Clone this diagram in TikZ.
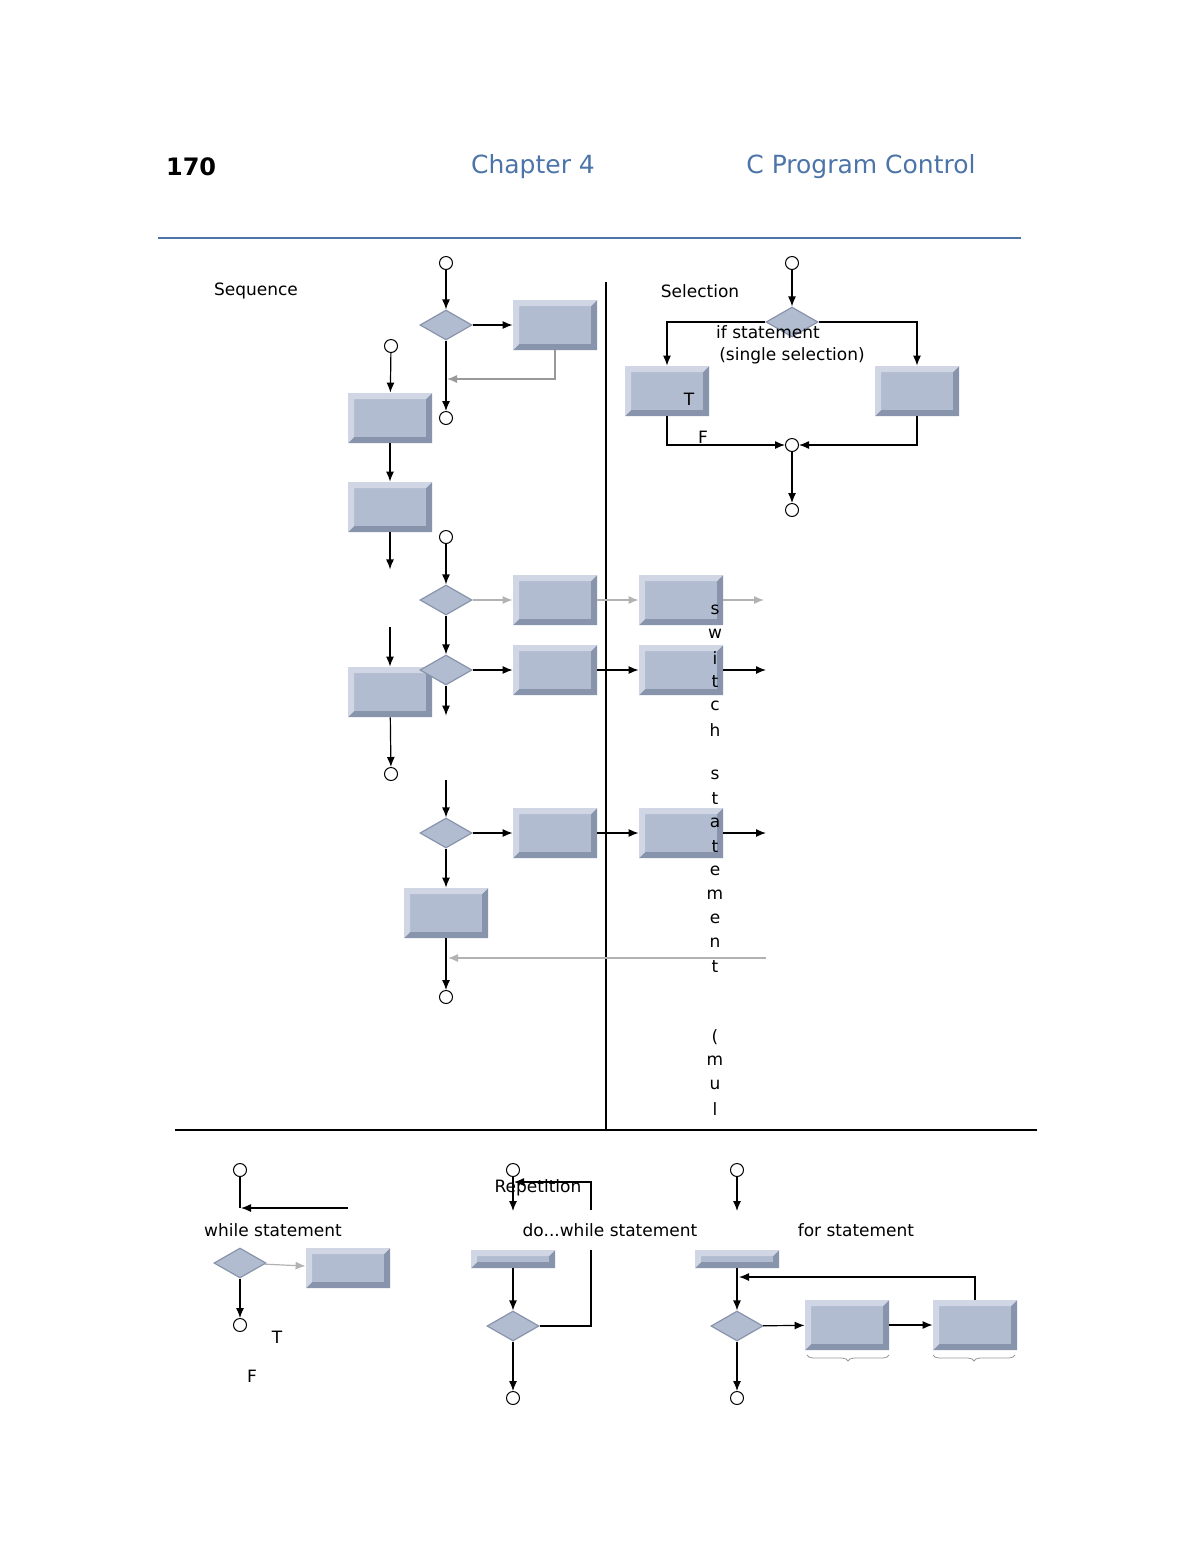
\documentclass[tikz,border=0pt]{standalone}
\usepackage{fontspec}
\setmainfont{DejaVu Sans}
\usetikzlibrary{shapes.geometric,arrows.meta,decorations.pathreplacing}
\definecolor{boxc}{HTML}{B2BCD1}
\definecolor{boxd}{HTML}{8893AC}
\definecolor{boxl}{HTML}{D0D6E3}
\definecolor{hblue}{HTML}{4C74A8}
\tikzset{
 bx/.style={rectangle,fill=boxc,minimum width=42pt,minimum height=25pt,inner sep=0pt,
  path picture={
   \fill[boxd] (path picture bounding box.south west)--(path picture bounding box.south east)--(path picture bounding box.north east)--([shift={(-3pt,-3pt)}]path picture bounding box.north east)--([shift={(-3pt,3pt)}]path picture bounding box.south east)--([shift={(3pt,3pt)}]path picture bounding box.south west)--cycle;
   \fill[boxl] (path picture bounding box.south west)--(path picture bounding box.north west)--(path picture bounding box.north east)--([shift={(-3pt,-3pt)}]path picture bounding box.north east)--([shift={(3pt,-3pt)}]path picture bounding box.north west)--([shift={(3pt,3pt)}]path picture bounding box.south west)--cycle;}},
 hbx/.style={bx,minimum height=9pt},
 dm/.style={diamond,fill=boxc,draw=boxd,line width=0.6pt,minimum width=26pt,minimum height=15pt,inner sep=0pt,shape aspect=1.7},
 cc/.style={circle,draw,line width=0.5pt,minimum size=6.5pt,inner sep=0pt},
 ar/.style={-{Latex[length=5pt,width=4pt]},line width=0.6pt},
 fa/.style={ar,draw=black!30},
 ln/.style={line width=0.6pt},
 lbl/.style={font=\fontsize{8.5}{10}\selectfont,inner sep=0pt},
}
\begin{document}
\begin{tikzpicture}[x=0.5pt,y=-0.5pt]
\useasboundingbox (0,0) rectangle (1200,1565);
% header
\node[font=\bfseries\fontsize{12}{14}\selectfont,anchor=west] (pg) at (159,167) {170};
\node[font=\fontsize{12.5}{14}\selectfont,text=hblue] (ch) at (533,167) {Chapter 4};
\node[font=\fontsize{12.5}{14}\selectfont,text=hblue] (ct) at (861,167) {C Program Control};
\draw[hblue,line width=0.8pt] (158,238) -- (1021,238);
\draw[line width=0.9pt] (606,282) -- (606,1130);
\draw[line width=0.9pt] (175,1130) -- (1037,1130);
\node[lbl] (seq) at (256,291) {Sequence};
\node[lbl] (sel) at (700,291) {Selection};
% sequence
\node[cc] (s0) at (391,346) {};
\node[bx] (s1) at (390,418) {};
\node[bx] (s2) at (390,507) {};
\node[bx] (s3) at (390,692) {};
\node[cc] (s4) at (391,774) {};
\draw[ar] (s0) -- (s1);
\draw[ar] (s1) -- (s2);
\draw[ar] (s2.south) -- ++(0,37) coordinate (s2e);
\coordinate (s3s) at (390,627);
\draw[ar] (s3s) -- (s3);
\draw[ar] (s3) -- (s4);
% if single (left)
\node[cc] (a0) at (446,263) {};
\node[dm] (a1) at (446,325) {};
\node[bx] (a2) at (555,325) {};
\node[cc] (a3) at (446,418) {};
\draw[ar] (a0) -- (a1);
\draw[ar] (a1) -- (a2);
\draw[ar] (a1) -- (a3);
\draw[fa,draw=black!40] (a2.south) |- (447,379);
% switch
\node[cc] (w0) at (446,537) {};
\node[dm] (w1) at (446,600) {};
\node[bx] (w1a) at (555,600) {};
\node[bx] (w1b) at (681,600) {};
\node[dm] (w2) at (446,670) {};
\node[bx] (w2a) at (555,670) {};
\node[bx] (w2b) at (681,670) {};
\node[dm] (w3) at (446,833) {};
\node[bx] (w3a) at (555,833) {};
\node[bx] (w3b) at (681,833) {};
\node[bx] (w4) at (446,913) {};
\node[cc] (w5) at (446,997) {};
\draw[ar] (w0) -- (w1);
\draw[ar] (w1) -- (w2);
\draw[ar] (w2.south) -- ++(0,30);
\coordinate (w3s) at (446,780);
\draw[ar] (w3s) -- (w3);
\draw[ar] (w3) -- (w4);
\draw[ar] (w4) -- (w5);
\draw[fa] (w1) -- (w1a); \draw[fa] (w1a) -- (w1b);
\draw[ar] (w2) -- (w2a); \draw[ar] (w2a) -- (w2b);
\draw[ar] (w3) -- (w3a); \draw[ar] (w3a) -- (w3b);
\coordinate (e1) at (764,600); \coordinate (e2) at (766,670); \coordinate (e3) at (766,833);
\draw[fa] (w1b) -- (e1); \draw[ar] (w2b) -- (e2); \draw[ar] (w3b) -- (e3);
\coordinate (rt) at (766,958);
\draw[fa] (rt) -- (448,958);
\foreach \c/\y in {s/610,w/634,i/658,t/682,c/706,h/730,s/775,t/799,a/823,t/847,e/871,m/895,e/919,n/943,t/967,{(}/1037,m/1061,u/1085,l/1109}
 \node[lbl] at (715,\y) {\c};
% selection if
\node[cc] (i0) at (792,263) {};
\node[dm] (i1) at (792,322) {};
\node[bx] (i2) at (667,391) {};
\node[bx] (i3) at (917,391) {};
\node[cc] (i4) at (792,445) {};
\node[cc] (i5) at (792,510) {};
\draw[ar] (i0) -- (i1);
\draw[ar] (i1.west) -| (i2.north);
\draw[ar] (i1.east) -| (i3.north);
\draw[ar] (i2.south) |- (i4.west);
\draw[ar] (i3.south) |- (i4.east);
\draw[ar] (i4) -- (i5);
\node[lbl] (ift) at (768,332) {if statement};
\node[lbl] (ifs) at (792,356) {(single selection)};
\node[lbl] (tt) at (689,399) {T};
\node[lbl] (ff) at (703,437) {F};
% while
\node[cc] (h0) at (240,1170) {};
\node[dm] (h1) at (240,1263) {};
\node[bx,minimum height=20pt] (h2) at (348,1268) {};
\node[cc] (h3) at (240,1325) {};
\draw[ln] (h0) -- (240,1208);
\coordinate (hr) at (348,1208);
\draw[ar] (hr) -- (241,1208);
\draw[fa] (h1) -- (h2);
\draw[ar] (h1) -- (h3);
\node[lbl] (wst) at (273,1230) {while statement};
\node[lbl] (wt) at (277,1337) {T};
\node[lbl] (wf) at (252,1376) {F};
% do while
\node[cc] (d0) at (513,1170) {};
\coordinate (d0e) at (513,1211);
\draw[ar] (d0) -- (d0e);
\node[hbx] (d1) at (513,1259) {};
\node[dm] (d2) at (513,1326) {};
\node[cc] (d3) at (513,1398) {};
\draw[ar] (d1) -- (d2);
\draw[ar] (d2) -- (d3);
\draw[ln] (d2.east) -| (591,1250);
\draw[ar] (591,1210) |- (514,1182);
\node[lbl] (rep) at (538,1188) {Repetition};
\node[lbl] (dwt) at (610,1230) {do...while statement};
% for
\node[cc] (f0) at (737,1170) {};
\coordinate (f0e) at (737,1211);
\draw[ar] (f0) -- (f0e);
\node[hbx] (f1) at (737,1259) {};
\node[dm] (f2) at (737,1326) {};
\node[bx] (f3) at (847,1325) {};
\node[bx] (f4) at (975,1325) {};
\node[cc] (f5) at (737,1398) {};
\draw[ar] (f1) -- (f2);
\draw[ar] (f2) -- (f3);
\draw[ar] (f3) -- (f4);
\draw[ar] (f2) -- (f5);
\draw[ar] (f4.north) |- (739,1277);
\draw[decorate,decoration={brace,mirror,amplitude=3pt},draw=black!40,line width=0.4pt] (807,1355) -- (889,1355);
\draw[decorate,decoration={brace,mirror,amplitude=3pt},draw=black!40,line width=0.4pt] (933,1355) -- (1015,1355);
\node[lbl] (fst) at (856,1230) {for statement};
\end{tikzpicture}
\end{document}
